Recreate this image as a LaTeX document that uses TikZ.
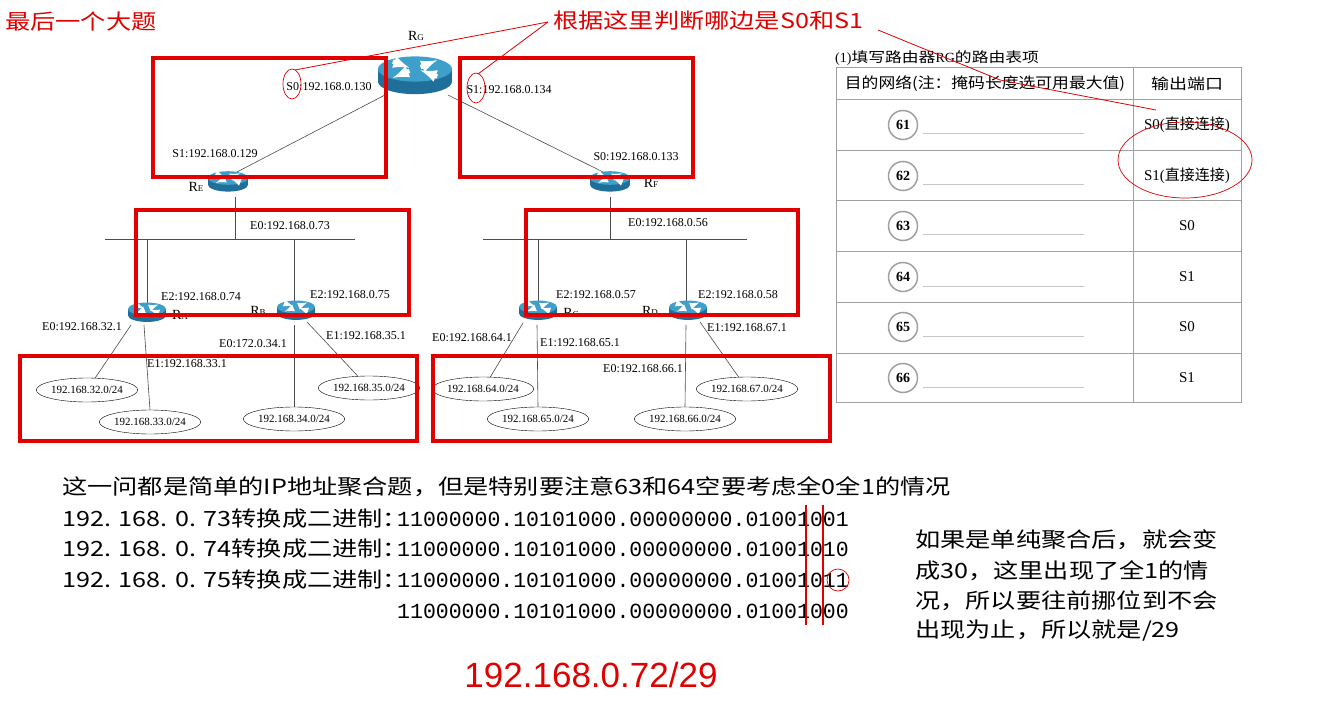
\documentclass[tikz,border=0pt]{standalone}
\usepackage{fontspec}
\setmainfont{Liberation Serif}
\newfontfamily\cjk{Noto Sans CJK SC}
\newfontfamily\mono{Liberation Mono}
\newfontfamily\arial{Liberation Sans}
\usetikzlibrary{shapes.geometric}
\definecolor{rtop}{HTML}{3F9FCB}
\definecolor{rbody}{HTML}{1F6F9A}
\definecolor{redc}{HTML}{E00000}
\definecolor{tgray}{HTML}{A0A0A0}
\newcommand\wide[1]{\scalebox{1.2}[1]{#1}}
\tikzset{
  lbl/.style={font=\fontsize{12}{12}\selectfont, inner sep=0pt},
  rl/.style={font=\fontsize{14}{14}\selectfont, inner sep=0pt},
  net/.style={draw, ellipse, minimum width=84pt, minimum height=24pt, inner sep=0pt, font=\fontsize{11}{11}\selectfont},
  link/.style={draw=black!70, line width=0.6pt},
  redbox/.style={draw=redc, line width=3.5pt},
  redline/.style={draw=redc, line width=0.8pt},
  big/.style={font=\cjk\fontsize{21}{24}\selectfont, inner sep=0pt, anchor=west},
  cell/.style={font=\fontsize{15}{16}\selectfont, inner sep=0pt},
  num/.style={draw=tgray, line width=1.5pt, circle, minimum size=29pt, inner sep=0pt, font=\bfseries\fontsize{14}{16}\selectfont}
}
\newcommand\myrouter[4]{% name, x, y, half width
  \pgfmathsetmacro\ry{0.34*#4}
  \fill[rbody] (#2-#4,#3) rectangle (#2+#4,#3+\ry);
  \fill[rbody] (#2,#3+\ry) ellipse [x radius=#4, y radius=\ry];
  \fill[rtop] (#2,#3) ellipse [x radius=#4, y radius=\ry];
  \draw[white, line width=0.12*#4, -latex] (#2-0.6*#4,#3-0.6*\ry) -- (#2-0.15*#4,#3-0.1*\ry);
  \draw[white, line width=0.12*#4, -latex] (#2+0.6*#4,#3+0.6*\ry) -- (#2+0.15*#4,#3+0.1*\ry);
  \draw[white, line width=0.12*#4, -latex] (#2+0.15*#4,#3-0.15*\ry) -- (#2+0.6*#4,#3-0.7*\ry);
  \draw[white, line width=0.12*#4, -latex] (#2-0.15*#4,#3+0.15*\ry) -- (#2-0.6*#4,#3+0.7*\ry);
  \coordinate (#1) at (#2,#3+0.5*\ry);
}
\begin{document}
\begin{tikzpicture}[x=1pt,y=-1pt]
\useasboundingbox[fill=white] (0,0) rectangle (1343,719);
% links top
\coordinate (g1) at (385,95); \coordinate (e1) at (235,173);
\coordinate (g2) at (448,95); \coordinate (f1) at (605,173);
\draw[link] (g1) -- (e1); \draw[link] (g2) -- (f1);
% buses
\coordinate (bl1) at (105,239); \coordinate (bl2) at (355,239);
\coordinate (br1) at (483,239); \coordinate (br2) at (747,239);
\draw[link] (bl1) -- (bl2); \draw[link] (br1) -- (br2);
\coordinate (et) at (235,197); \coordinate (eb) at (235,239);
\coordinate (ft) at (610,197); \coordinate (fb) at (610,239);
\draw[link] (et) -- (eb); \draw[link] (ft) -- (fb);
\foreach \x [count=\i] in {147,294,538,686}{
  \coordinate (vt\i) at (\x,239); \coordinate (vb\i) at (\x,305);
  \draw[link] (vt\i) -- (vb\i);}
% networks
\node[net] (n32) at (87,390) {192.168.32.0/24};
\node[net] (n33) at (150,422) {192.168.33.0/24};
\node[net] (n34) at (294,419) {192.168.34.0/24};
\node[net] (n35) at (369,388) {192.168.35.0/24};
\node[net] (n64) at (483,389) {192.168.64.0/24};
\node[net] (n65) at (538,419) {192.168.65.0/24};
\node[net] (n66) at (685,419) {192.168.66.0/24};
\node[net] (n67) at (747,389) {192.168.67.0/24};
\coordinate (a1) at (131,325); \coordinate (a2) at (144,325);
\coordinate (b1) at (294,325); \coordinate (b2) at (307,322);
\coordinate (c1) at (523,323); \coordinate (c2) at (537,325);
\coordinate (d1) at (686,325); \coordinate (d2) at (700,322);
\draw[link] (a1) -- (n32); \draw[link] (a2) -- (n33.north);
\draw[link] (b1) -- (n34.north); \draw[link] (b2) -- (n35);
\draw[link] (c1) -- (n64); \draw[link] (c2) -- (n65.north);
\draw[link] (d1) -- (n66.north); \draw[link] (d2) -- (n67);
% routers
\myrouter{RG}{415}{69}{37}
\myrouter{RE}{228}{178}{20}
\myrouter{RF}{610}{178}{20}
\myrouter{RA}{147}{309}{19}
\myrouter{RB}{296}{307}{19}
\myrouter{RC}{538}{307}{19}
\myrouter{RD}{688}{307}{19}
% labels
\node[rl] (lg) at (416,36) {R{\fontsize{9}{9}\selectfont G}};
\node[rl] (le) at (196,187) {R{\fontsize{9}{9}\selectfont E}};
\node[rl] (lf) at (651,183) {R{\fontsize{9}{9}\selectfont F}};
\node[rl] (la) at (180,315) {R{\fontsize{9}{9}\selectfont A}};
\node[rl] (lb) at (258,311) {R{\fontsize{9}{9}\selectfont B}};
\node[rl] (lc) at (571,313) {R{\fontsize{9}{9}\selectfont C}};
\node[rl] (ld) at (650,311) {R{\fontsize{9}{9}\selectfont D}};
\node[lbl] (t1) at (329,87) {S0:192.168.0.130};
\node[lbl] (t2) at (509,90) {S1:192.168.0.134};
\node[lbl] (t3) at (215,154) {S1:192.168.0.129};
\node[lbl] (t4) at (636,157) {S0:192.168.0.133};
\node[lbl] (t5) at (290,226) {E0:192.168.0.73};
\node[lbl] (t6) at (668,223) {E0:192.168.0.56};
\node[lbl] (t7) at (201,297) {E2:192.168.0.74};
\node[lbl] (t8) at (350,295) {E2:192.168.0.75};
\node[lbl] (t9) at (596,295) {E2:192.168.0.57};
\node[lbl] (t10) at (738,295) {E2:192.168.0.58};
\node[lbl] (t11) at (82,327) {E0:192.168.32.1};
\node[lbl] (t12) at (187,364) {E1:192.168.33.1};
\node[lbl] (t13) at (253,344) {E0:172.0.34.1};
\node[lbl] (t14) at (366,336) {E1:192.168.35.1};
\node[lbl] (t15) at (472,338) {E0:192.168.64.1};
\node[lbl] (t16) at (580,343) {E1:192.168.65.1};
\node[lbl] (t17) at (643,369) {E0:192.168.66.1};
\node[lbl] (t18) at (747,328) {E1:192.168.67.1};
% red boxes
\draw[redbox] (153,58) rectangle (386,177);
\draw[redbox] (460,58) rectangle (693,177);
\draw[redbox] (136,210) rectangle (409,315);
\draw[redbox] (526,210) rectangle (798,315);
\draw[redbox] (20,356) rectangle (417,441);
\draw[redbox] (433,356) rectangle (830,441);
% table
\node[anchor=west, inner sep=0pt, font=\fontsize{14}{14}\selectfont] (tt) at (835,58) {(1){\cjk\wide{填写路由器}}RG{\cjk\wide{的路由表项}}};
\draw[tgray, line width=1pt] (836,68) rectangle (1241,402);
\draw[tgray, line width=1pt] (1133,68) -- (1133,402);
\foreach \y in {100,151,201,252,302,353}{\draw[tgray, line width=1pt] (836,\y) -- (1241,\y);}
\node[cell, font=\cjk\fontsize{15}{16}\selectfont] (h1) at (985,84) {\scalebox{1.12}[1]{目的网络(注：掩码长度选可用最大值)}};
\node[cell, font=\cjk\fontsize{15}{16}\selectfont] (h2) at (1187,84) {\wide{输出端口}};
\foreach \n/\y/\p in {61/125/{S0({\cjk 直接连接})},62/176/{S1({\cjk 直接连接})},63/226/S0,64/277/S1,65/327/S0,66/378/S1}{
  \node[num] (c\n) at (903,\y) {\n};
  \draw[tgray!60, line width=1pt] (923,\y+9) -- (1084,\y+9);
  \node[cell] (p\n) at (1187,\y) {\p};
}
% red annotations
\node[anchor=west, inner sep=0pt, text=redc, font=\cjk\fontsize{21}{24}\selectfont] (h0) at (5,22) {\wide{最后一个大题}};
\node[anchor=west, inner sep=0pt, text=redc, font=\cjk\fontsize{21}{24}\selectfont] (ann) at (553,21) {\wide{根据这里判断哪边是S0和S1}};
\draw[redc, line width=0.7pt] (292,84) ellipse [x radius=9, y radius=15];
\draw[redc, line width=0.7pt] (476,88) ellipse [x radius=9, y radius=15];
\draw[redc, line width=0.7pt] (1185,160) ellipse [x radius=67, y radius=38];
\coordinate (ra) at (548,22);
\draw[redline] (ra) -- (295,70); \draw[redline] (ra) -- (478,74);
\coordinate (rb) at (878,30);
\draw[redline] (rb) -- (1000,80) -- (1156,110);
% bottom text
\node[big] (b0) at (62,487) {\wide{这一问都是简单的IP地址聚合题，但是特别要注意63和64空要考虑全0全1的情况}};
\node[big] (l1) at (62,519) {\wide{192. 168. 0. 73转换成二进制：}};
\node[big] (l2) at (62,549) {\wide{192. 168. 0. 74转换成二进制：}};
\node[big] (l3) at (62,580) {\wide{192. 168. 0. 75转换成二进制：}};
\node[big, font=\mono\fontsize{21.5}{24}\selectfont] (m1) at (397,519) {11000000.10101000.00000000.01001001};
\node[big, font=\mono\fontsize{21.5}{24}\selectfont] (m2) at (397,549) {11000000.10101000.00000000.01001010};
\node[big, font=\mono\fontsize{21.5}{24}\selectfont] (m3) at (397,580) {11000000.10101000.00000000.01001011};
\node[big, font=\mono\fontsize{21.5}{24}\selectfont] (m4) at (397,611) {11000000.10101000.00000000.01001000};
\draw[redc, line width=1.5pt] (806,505) -- (806,625);
\draw[redc, line width=1.5pt] (823,505) -- (823,625);
\draw[redc, line width=0.7pt] (838,580) circle (11);
\node[big, anchor=west] (r1) at (915,540) {\wide{如果是单纯聚合后，就会变}};
\node[big, anchor=west] (r2) at (915,571) {\wide{成30，这里出现了全1的情}};
\node[big, anchor=west] (r3) at (915,601) {\wide{况，所以要往前挪位到不会}};
\node[big, anchor=west] (r4) at (915,631) {\wide{出现为止，所以就是/29}};
\node[inner sep=0pt, text=redc, font=\arial\fontsize{35}{40}\selectfont] (res) at (591,675) {192.168.0.72/29};
\end{tikzpicture}
\end{document}
